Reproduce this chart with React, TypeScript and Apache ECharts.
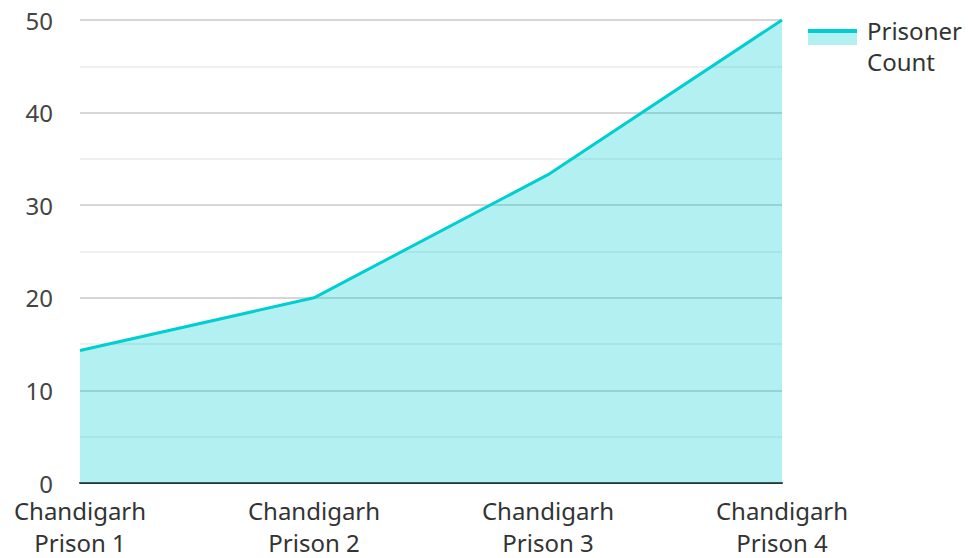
import React, { useEffect, useRef } from "react";
import * as echarts from "echarts";

const categories = [
  "Chandigarh\nPrison 1",
  "Chandigarh\nPrison 2",
  "Chandigarh\nPrison 3",
  "Chandigarh\nPrison 4",
];
const prisonerCount = [14.3, 20, 33.3, 50];
const seriesName = "Prisoner Count";

export default function App() {
  const ref = useRef<HTMLDivElement>(null);
  useEffect(() => {
    if (!ref.current) return;
    const chart = echarts.init(ref.current, undefined, { renderer: "svg" });
    const font = "'Noto Sans', 'Open Sans', sans-serif";
    chart.setOption({
      animation: false,
      grid: { left: 80, right: 186, top: 20, bottom: 71, containLabel: false },
      legend: {
        data: [seriesName],
        left: 808,
        top: 6,
        padding: 0,
        icon: "rect",
        itemWidth: 49,
        itemHeight: 15,
        itemGap: 10,
        itemStyle: { color: "rgba(0,206,209,0.3)", borderWidth: 0 },
        formatter: () => "{s| }\n{a|Prisoner}\n{a|Count}",
        textStyle: {
          fontFamily: font,
          fontSize: 24,
          color: "#333",
          rich: {
            s: { fontSize: 1, lineHeight: 17 },
            a: {
              fontFamily: font,
              fontSize: 24,
              color: "#333",
              lineHeight: 31,
              padding: [0, 0, 0, 5],
            },
          },
        },
        selectedMode: false,
      },
      graphic: [
        {
          type: "line",
          shape: { x1: 808, y1: 31, x2: 857, y2: 31 },
          style: { stroke: "#00CED1", lineWidth: 4 },
          z: 100,
        },
      ],
      xAxis: {
        type: "category",
        data: categories,
        boundaryGap: false,
        axisLine: { show: true, lineStyle: { color: "#333", width: 2 } },
        axisTick: { show: false },
        axisLabel: {
          fontFamily: font,
          fontSize: 24,
          color: "#333",
          lineHeight: 32,
          margin: 11,
          interval: 0,
        },
        splitLine: { show: false },
      },
      yAxis: {
        type: "value",
        min: 0,
        max: 50,
        interval: 10,
        axisLine: { show: false },
        axisTick: { show: false },
        axisLabel: {
          fontFamily: font,
          fontSize: 24,
          color: "#444",
          margin: 27,
        },
        splitLine: { show: true, lineStyle: { color: "#c8c8c8", width: 1.5 } },
        minorTick: { show: false, splitNumber: 2 },
        minorSplitLine: { show: true, lineStyle: { color: "#ebebeb", width: 1.5 } },
      },
      series: [
        {
          name: seriesName,
          type: "line",
          data: prisonerCount,
          showSymbol: false,
          symbol: "none",
          lineStyle: { color: "#00CED1", width: 3 },
          itemStyle: { color: "#00CED1" },
          areaStyle: { color: "#00CED1", opacity: 0.3 },
          z: 3,
        },
      ],
    });
    return () => chart.dispose();
  }, []);
  return <div ref={ref} style={{ width: 968, height: 558, position: "absolute", left: 0, top: 0 }} />;
}
